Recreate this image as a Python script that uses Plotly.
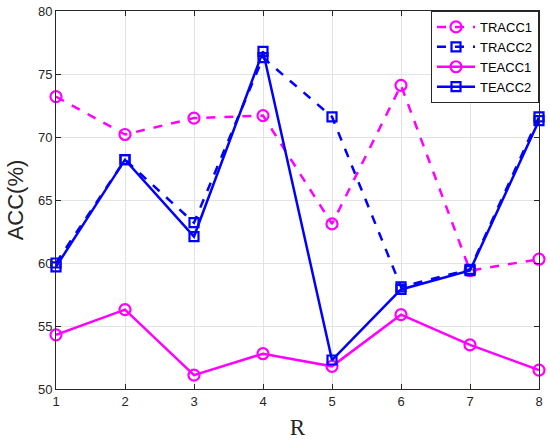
import plotly.graph_objects as go

# R values on the x axis
r_vals = [1, 2, 3, 4, 5, 6, 7, 8]

# accuracy series (%)
tracc1 = [73.2, 70.2, 71.5, 71.7, 63.1, 74.1, 59.4, 60.3]
tracc2 = [60.0, 68.2, 63.2, 76.3, 71.6, 58.1, 59.5, 71.6]
teacc1 = [54.3, 56.3, 51.1, 52.8, 51.8, 55.9, 53.5, 51.5]
teacc2 = [59.7, 68.2, 62.1, 76.8, 52.3, 57.9, 59.4, 71.3]

MAGENTA = "#ff00ff"
BLUE = "#0000ff"

series = [
    ("TRACC1", tracc1, MAGENTA, "dash", "circle-open", 11),
    ("TRACC2", tracc2, BLUE, "dash", "square-open", 9),
    ("TEACC1", teacc1, MAGENTA, "solid", "circle-open", 11),
    ("TEACC2", teacc2, BLUE, "solid", "square-open", 9),
]

fig = go.Figure()
for name, vals, color, dash, symbol, size in series:
    fig.add_trace(go.Scatter(
        x=r_vals, y=vals, mode="lines+markers", name=name, cliponaxis=False,
        line=dict(color=color, width=2.5, dash=dash),
        marker=dict(symbol=symbol, size=size, color=color, line=dict(width=2.2, color=color)),
    ))

axis_common = dict(
    showgrid=True, gridcolor="#e3e3e3", gridwidth=1,
    showline=True, linecolor="#262626", linewidth=1, mirror="ticks",
    ticks="inside", ticklen=5, tickcolor="#262626",
    tickfont=dict(family="Liberation Sans, Arial, sans-serif", size=13, color="#262626"),
    zeroline=False, automargin=False,
)

fig.update_xaxes(
    range=[1, 8], tickvals=r_vals,
    title=dict(text="R", font=dict(family="Liberation Serif, Times New Roman, serif", size=23, color="#262626"), standoff=11),
    **axis_common,
)
fig.update_yaxes(
    range=[50, 80], tickvals=[50, 55, 60, 65, 70, 75, 80],
    title=dict(text="ACC(%)", font=dict(family="Liberation Sans, Arial, sans-serif", size=22, color="#262626"), standoff=8),
    **axis_common,
)

fig.update_layout(
    width=550, height=441,
    margin=dict(l=56, r=11, t=11, b=52),
    plot_bgcolor="white", paper_bgcolor="white",
    legend=dict(
        x=1, y=1, xanchor="right", yanchor="top",
        bgcolor="white", bordercolor="#262626", borderwidth=1,
        font=dict(family="Liberation Sans, Arial, sans-serif", size=13, color="#000000"),
        tracegroupgap=0, itemwidth=38,
    ),
)

# drop the default 8px body margin so the figure sits flush in the window
fig.write_html("out.html", config={"displayModeBar": False},
               post_script="document.body.style.margin='0';")
